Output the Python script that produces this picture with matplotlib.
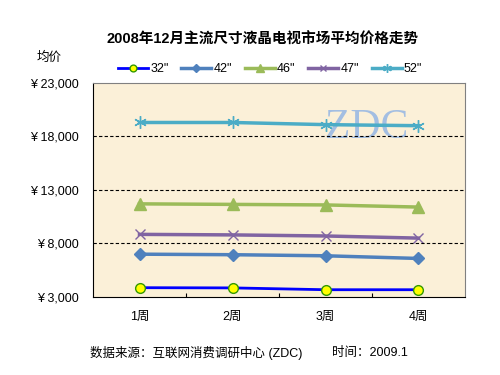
import matplotlib.pyplot as plt
from matplotlib.ticker import FuncFormatter

plt.rcParams['font.family'] = ['Liberation Sans', 'Noto Sans CJK SC', 'DejaVu Sans']

weeks = ['1周', '2周', '3周', '4周']
s32 = [3870, 3850, 3680, 3680]
s42 = [7000, 6950, 6850, 6600]
s46 = [11700, 11650, 11600, 11400]
s47 = [8850, 8800, 8700, 8500]
s52 = [19300, 19300, 19100, 19000]
yticks = [3000, 8000, 13000, 18000, 23000]

fig = plt.figure(figsize=(5, 3.75), dpi=100)
ax = fig.add_axes([0.186, 0.208, 0.744, 0.571])
ax.set_facecolor('#FBF0D8')

x = list(range(len(weeks)))
ax.plot(x, s32, color='#0000FF', lw=2, marker='o', ms=7, mfc='#FFFF00', mec='#339900', mew=1, label='32"')
ax.plot(x, s42, color='#4F81BD', lw=2.5, marker='D', ms=6, mec='#4F81BD', label='42"')
ax.plot(x, s46, color='#9BBB59', lw=2.5, marker='^', ms=8, mec='#9BBB59', label='46"')
ax.plot(x, s47, color='#8064A2', lw=2.5, marker='x', ms=7, mew=1, label='47"')
ax.plot(x, s52, color='#4BACC6', lw=2.5, marker=(6, 2, 0), ms=9, mew=1, label='52"')

ax.text(2.44, 18850, 'ZDC', fontsize=30, family='Liberation Serif', color='#94B6E4',
        alpha=0.85, ha='center', va='center', zorder=1)

ax.set_xlim(-0.5, 3.5)
ax.set_ylim(3000, 23000)
ax.set_xticks([0.5, 1.5, 2.5])
ax.set_xticklabels([])
ax.tick_params(axis='x', length=3, direction='in')
for i, w in enumerate(weeks):
    ax.text(i, 1100, w, ha='center', va='center', fontsize=9)
ax.set_yticks(yticks)
ax.yaxis.set_major_formatter(FuncFormatter(lambda v, p: '¥ {:,.0f}'.format(v)))
ax.tick_params(axis='y', length=0, labelsize=9, pad=10)
for v in yticks[1:-1]:
    ax.axhline(v, color='black', lw=0.8, ls=(0, (3, 2)))

for side in ['left', 'bottom']:
    ax.spines[side].set_color('black')
for side in ['top', 'right']:
    ax.spines[side].set_color('#808080')

fig.text(0.525, 0.893, '2008年12月主流尺寸液晶电视市场平均价格走势', ha='center', va='center',
         fontsize=10.5, fontweight='bold')
fig.text(0.098, 0.845, '均价', ha='center', va='center', fontsize=9)
fig.legend(loc='center', bbox_to_anchor=(0.54, 0.815), ncol=5, frameon=False, fontsize=9,
           handlelength=2.4, handletextpad=0.2, columnspacing=1.0, markerscale=0.7)
fig.text(0.18, 0.058, '数据来源：互联网消费调研中心 (ZDC)', ha='left', va='center', fontsize=9)
fig.text(0.664, 0.058, '时间：2009.1', ha='left', va='center', fontsize=9)

fig.savefig('out.png', dpi=100)
